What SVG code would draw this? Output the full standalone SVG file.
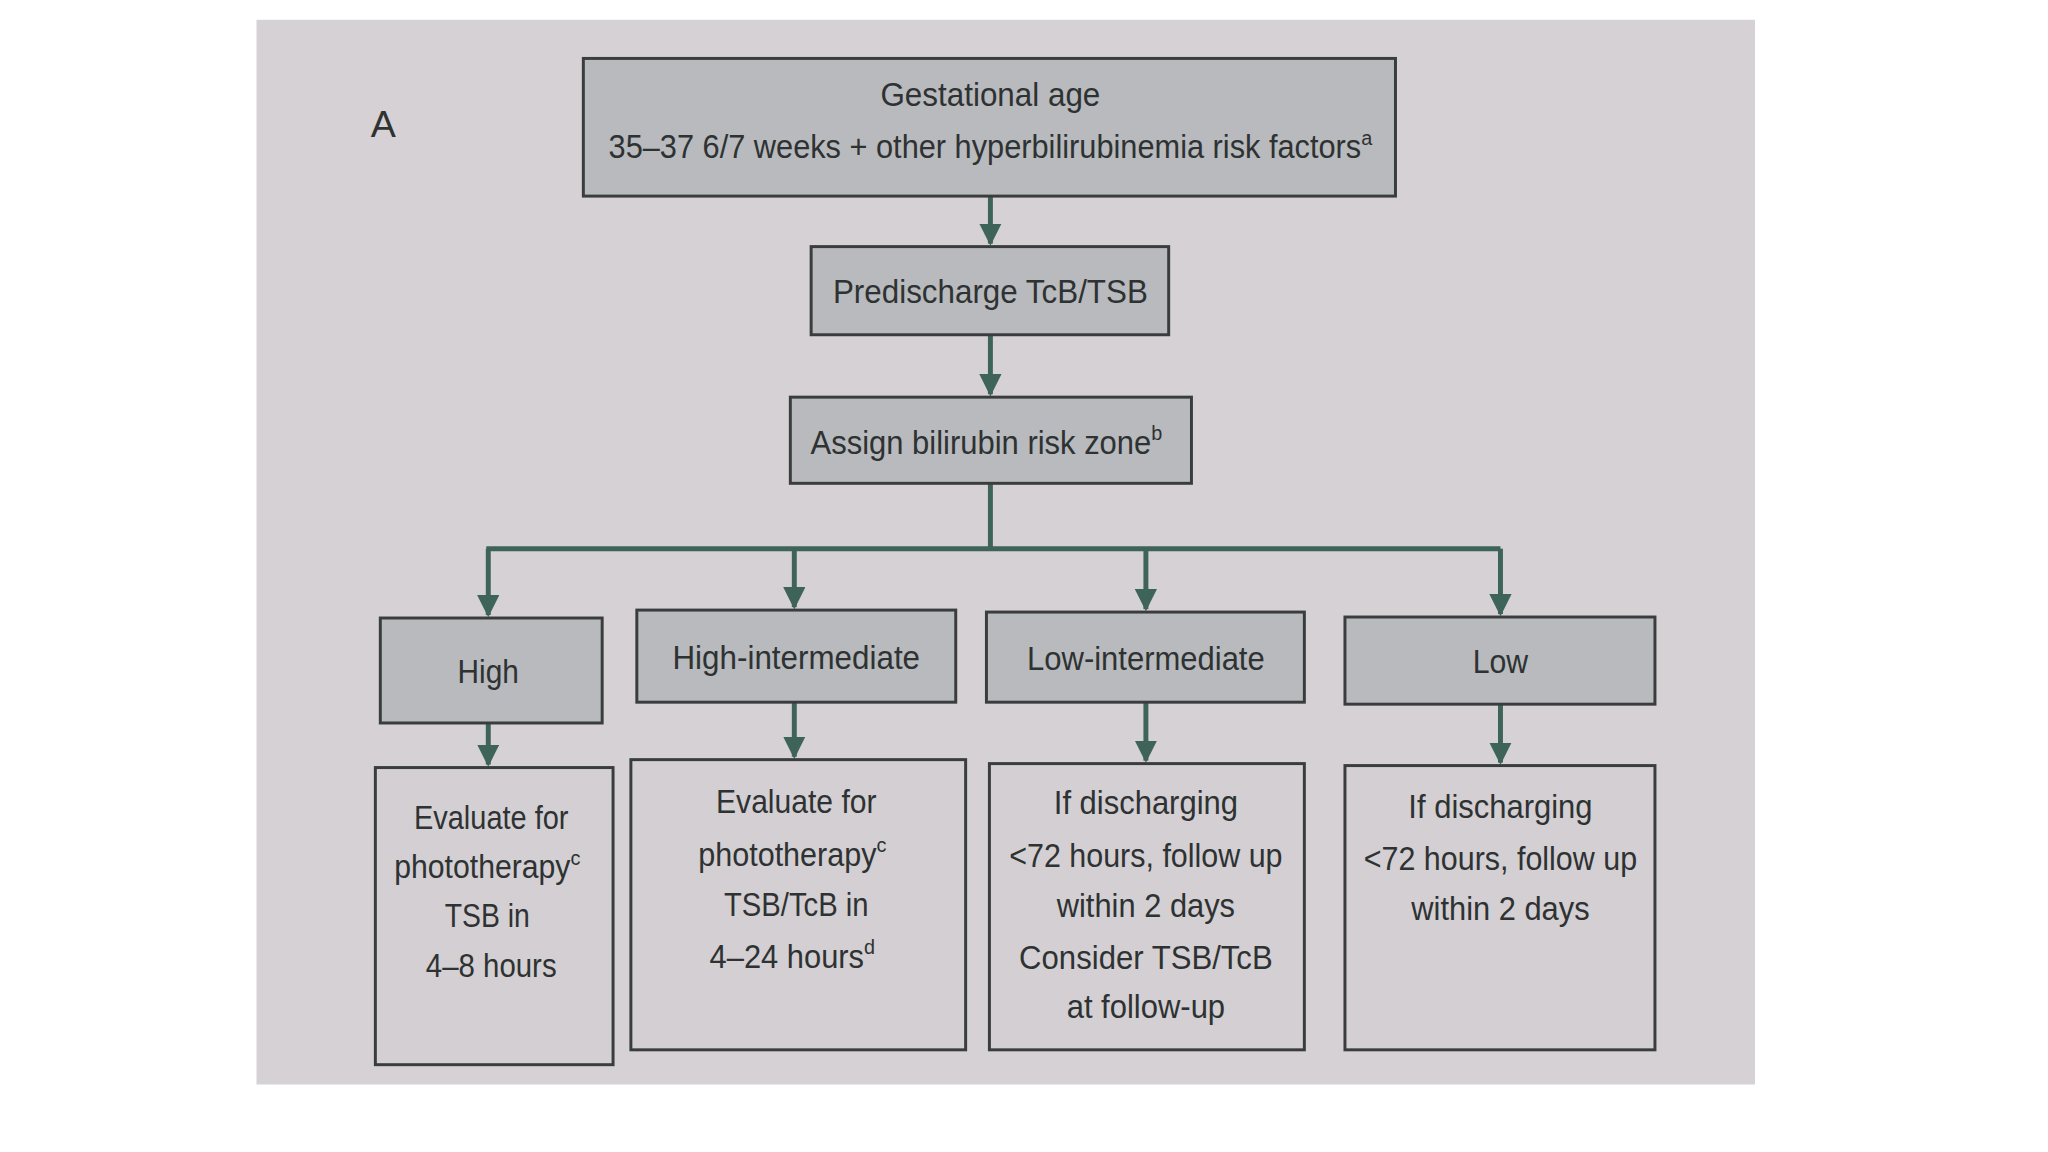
<svg xmlns="http://www.w3.org/2000/svg" width="2048" height="1152" viewBox="0 0 2048 1152">
<defs>
<style>
.b{fill:#b8babd;stroke:#3a3d3e;stroke-width:3}
.w{fill:#d3cfd2;stroke:#3a3d3e;stroke-width:3}
.t{font-family:"Liberation Sans",Arial,sans-serif;font-size:34px;fill:#2e3232;text-anchor:middle}
.c{stroke:#3e6359;stroke-width:5;fill:none}
</style>
<marker id="ah" viewBox="0 0 10 10" refX="9" refY="5" markerWidth="4.5" markerHeight="4.5" orient="auto" markerUnits="strokeWidth"><path d="M0,0L10,5L0,10z" fill="#3e6359"/></marker>
</defs>
<rect width="2048" height="1152" fill="#fff"/>
<g transform="scale(0.9904)">
<rect x="259" y="20" width="1513" height="1075" fill="#d6d1d4"/>
<text x="387" y="138" class="t" style="font-size:38px">A</text>
<g id="connectors">
<path class="c" d="M1000,198V246" marker-end="url(#ah)"/>
<path class="c" d="M1000,338V398" marker-end="url(#ah)"/>
<path class="c" d="M1000,488V554"/>
<path class="c" d="M491,554H1515"/>
<path class="c" d="M493,554V621" marker-end="url(#ah)"/>
<path class="c" d="M802,554V613" marker-end="url(#ah)"/>
<path class="c" d="M1157,554V615" marker-end="url(#ah)"/>
<path class="c" d="M1515,554V620" marker-end="url(#ah)"/>
<path class="c" d="M493,730V772" marker-end="url(#ah)"/>
<path class="c" d="M802,709V764" marker-end="url(#ah)"/>
<path class="c" d="M1157,709V768" marker-end="url(#ah)"/>
<path class="c" d="M1515,711V770" marker-end="url(#ah)"/>
</g>
<g id="n_ga"><rect class="b" x="589" y="59" width="820" height="139"/>
<text class="t" x="1000" y="107" textLength="222" lengthAdjust="spacingAndGlyphs">Gestational age</text>
<text class="t" x="1000" y="160"><tspan textLength="760" lengthAdjust="spacingAndGlyphs">35–37 6/7 weeks + other hyperbilirubinemia risk factors</tspan><tspan font-size="20" dy="-14">a</tspan></text></g>
<g id="n_pre"><rect class="b" x="819" y="249" width="361" height="89"/><text class="t" x="1000" y="306" textLength="318" lengthAdjust="spacingAndGlyphs">Predischarge TcB/TSB</text></g>
<g id="n_zone"><rect class="b" x="798" y="401" width="405" height="87"/><text class="t" x="996" y="458"><tspan textLength="344" lengthAdjust="spacingAndGlyphs">Assign bilirubin risk zone</tspan><tspan font-size="20" dy="-14">b</tspan></text></g>
<g id="n_high"><rect class="b" x="384" y="624" width="224" height="106"/><text class="t" x="493" y="690" textLength="62" lengthAdjust="spacingAndGlyphs">High</text></g>
<g id="n_hi"><rect class="b" x="643" y="616" width="322" height="93"/><text class="t" x="804" y="675" textLength="250" lengthAdjust="spacingAndGlyphs">High-intermediate</text></g>
<g id="n_li"><rect class="b" x="996" y="618" width="321" height="91"/><text class="t" x="1157" y="676" textLength="240" lengthAdjust="spacingAndGlyphs">Low-intermediate</text></g>
<g id="n_low"><rect class="b" x="1358" y="623" width="313" height="88"/><text class="t" x="1515" y="680" textLength="56" lengthAdjust="spacingAndGlyphs">Low</text></g>
<g id="n_high2"><rect class="w" x="379" y="775" width="240" height="300"/>
<text class="t" x="496" y="837" textLength="156" lengthAdjust="spacingAndGlyphs">Evaluate for</text>
<text class="t" x="492" y="887"><tspan textLength="178" lengthAdjust="spacingAndGlyphs">phototherapy</tspan><tspan font-size="20" dy="-14">c</tspan></text>
<text class="t" x="492" y="936" textLength="86" lengthAdjust="spacingAndGlyphs">TSB in</text>
<text class="t" x="496" y="986" textLength="132" lengthAdjust="spacingAndGlyphs">4–8 hours</text></g>
<g id="n_hi2"><rect class="w" x="637" y="767" width="338" height="293"/>
<text class="t" x="804" y="821" textLength="162" lengthAdjust="spacingAndGlyphs">Evaluate for</text>
<text class="t" x="800" y="874"><tspan textLength="180" lengthAdjust="spacingAndGlyphs">phototherapy</tspan><tspan font-size="20" dy="-14">c</tspan></text>
<text class="t" x="804" y="925" textLength="146" lengthAdjust="spacingAndGlyphs">TSB/TcB in</text>
<text class="t" x="800" y="977"><tspan textLength="156" lengthAdjust="spacingAndGlyphs">4–24 hours</tspan><tspan font-size="20" dy="-14">d</tspan></text></g>
<g id="n_li2"><rect class="w" x="999" y="771" width="318" height="289"/>
<text class="t" x="1157" y="822" textLength="186" lengthAdjust="spacingAndGlyphs">If discharging</text>
<text class="t" x="1157" y="875" textLength="276" lengthAdjust="spacingAndGlyphs">&lt;72 hours, follow up</text>
<text class="t" x="1157" y="926" textLength="180" lengthAdjust="spacingAndGlyphs">within 2 days</text>
<text class="t" x="1157" y="978" textLength="256" lengthAdjust="spacingAndGlyphs">Consider TSB/TcB</text>
<text class="t" x="1157" y="1028" textLength="160" lengthAdjust="spacingAndGlyphs">at follow-up</text></g>
<g id="n_low2"><rect class="w" x="1358" y="773" width="313" height="287"/>
<text class="t" x="1515" y="826" textLength="186" lengthAdjust="spacingAndGlyphs">If discharging</text>
<text class="t" x="1515" y="878" textLength="276" lengthAdjust="spacingAndGlyphs">&lt;72 hours, follow up</text>
<text class="t" x="1515" y="929" textLength="180" lengthAdjust="spacingAndGlyphs">within 2 days</text></g>
</g>
</svg>
